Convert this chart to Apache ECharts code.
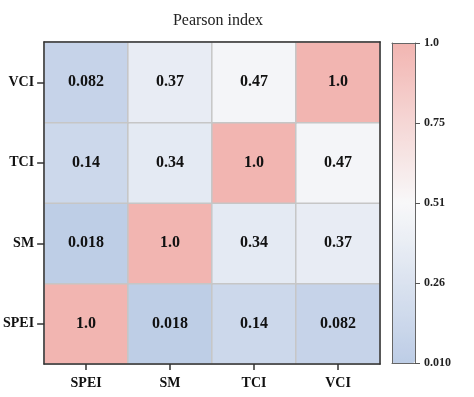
<!DOCTYPE html>
<html>
<head>
    <meta charset="utf-8"/>
    <title>Pearson index</title>
    <script src="https://cdn.jsdelivr.net/npm/echarts@6/dist/echarts.min.js"></script>
    <style>
        html, body { margin: 0; padding: 0; background: #fff; }
        #main { width: 474px; height: 397px; }
    </style>
</head>
<body>
<div id="main"></div>
<script type="text/javascript">
    // 数据
    var xCats = ['SPEI', 'SM', 'TCI', 'VCI'];
    var yCats = ['SPEI', 'SM', 'TCI', 'VCI'];
    var rowSPEI = [1.0, 0.018, 0.14, 0.082];
    var rowSM = [0.018, 1.0, 0.34, 0.37];
    var rowTCI = [0.14, 0.34, 1.0, 0.47];
    var rowVCI = [0.082, 0.37, 0.47, 1.0];
    var barTicks = [0.01, 0.2575, 0.505, 0.7525, 1.0];
    var barTickLabels = ['0.010', '0.26', '0.51', '0.75', '1.0'];

    var rows = [rowSPEI, rowSM, rowTCI, rowVCI];
    var data = [];
    rows.forEach(function (row, yi) {
        row.forEach(function (v, xi) {
            data.push([xi, yi, v]);
        });
    });

    var serif = 'Liberation Serif';
    var frameLine = {show: true, onZero: false, lineStyle: {color: '#333', width: 1.5}};
    var barLine = {show: true, onZero: false, lineStyle: {color: '#666', width: 1}};
    var myChart = echarts.init(document.getElementById('main'));

    myChart.setOption({
        animation: false,
        title: {
            text: 'Pearson index',
            left: 213, top: 8, textAlign: 'center',
            textStyle: {fontFamily: serif, fontWeight: 'normal', fontSize: 16, color: '#222'}
        },
        grid: [
            {left: 44, top: 42, width: 336, height: 322},
            {left: 392, top: 43, width: 23, height: 320}
        ],
        xAxis: [
            {
                type: 'category', data: xCats, gridIndex: 0, z: 10,
                axisLine: frameLine,
                axisTick: {show: true, alignWithLabel: true, length: 6, lineStyle: {color: '#333', width: 1.5}},
                axisLabel: {fontFamily: serif, fontWeight: 'bold', fontSize: 14, color: '#111', margin: 12}
            },
            {
                type: 'category', data: xCats, gridIndex: 0, position: 'top', z: 10,
                axisLine: frameLine, axisTick: {show: false}, axisLabel: {show: false}
            },
            {
                type: 'value', gridIndex: 1, min: 0, max: 1, z: 10,
                axisLine: barLine, axisTick: {show: false}, axisLabel: {show: false}, splitLine: {show: false}
            },
            {
                type: 'value', gridIndex: 1, min: 0, max: 1, position: 'top', z: 10,
                axisLine: barLine, axisTick: {show: false}, axisLabel: {show: false}, splitLine: {show: false}
            }
        ],
        yAxis: [
            {
                type: 'category', data: yCats, gridIndex: 0, z: 10,
                axisLine: frameLine,
                axisTick: {show: true, alignWithLabel: true, length: 7, lineStyle: {color: '#333', width: 1.5}},
                axisLabel: {fontFamily: serif, fontWeight: 'bold', fontSize: 14, color: '#111', margin: 10}
            },
            {
                type: 'category', data: yCats, gridIndex: 0, position: 'right', z: 10,
                axisLine: frameLine, axisTick: {show: false}, axisLabel: {show: false}
            },
            {
                type: 'value', gridIndex: 1, position: 'right', min: 0.01, max: 1.0, z: 10,
                splitLine: {show: false},
                axisLine: barLine,
                axisTick: {show: true, customValues: barTicks, length: 5, lineStyle: {color: '#555', width: 1}},
                axisLabel: {
                    customValues: barTicks, margin: 9,
                    fontFamily: serif, fontWeight: 'bold', fontSize: 12, color: '#222',
                    formatter: function (v) {
                        var i = barTicks.indexOf(v);
                        return i >= 0 ? barTickLabels[i] : '';
                    }
                }
            },
            {
                type: 'value', gridIndex: 1, position: 'left', min: 0.01, max: 1.0, z: 10,
                splitLine: {show: false}, axisLine: barLine,
                axisTick: {show: false}, axisLabel: {show: false}
            }
        ],
        visualMap: {
            type: 'continuous', min: 0.01, max: 1.0, seriesIndex: 0,
            calculable: false, orient: 'vertical',
            left: 392, top: 43, padding: 0, z: 1,
            itemWidth: 23, itemHeight: 320,
            text: null, showLabel: false,
            inRange: {color: ['#bdcde6', '#f8f8f9', '#f2b5b1']}
        },
        series: [{
            type: 'heatmap',
            xAxisIndex: 0, yAxisIndex: 0,
            data: data,
            itemStyle: {borderColor: '#c6c6c6', borderWidth: 1.5},
            label: {
                show: true,
                fontFamily: serif, fontWeight: 'bold', fontSize: 16, color: '#111',
                formatter: function (p) {
                    var v = p.value[2];
                    return v === 1 ? '1.0' : String(v);
                }
            },
            emphasis: {disabled: true}
        }]
    });
</script>
</body>
</html>
